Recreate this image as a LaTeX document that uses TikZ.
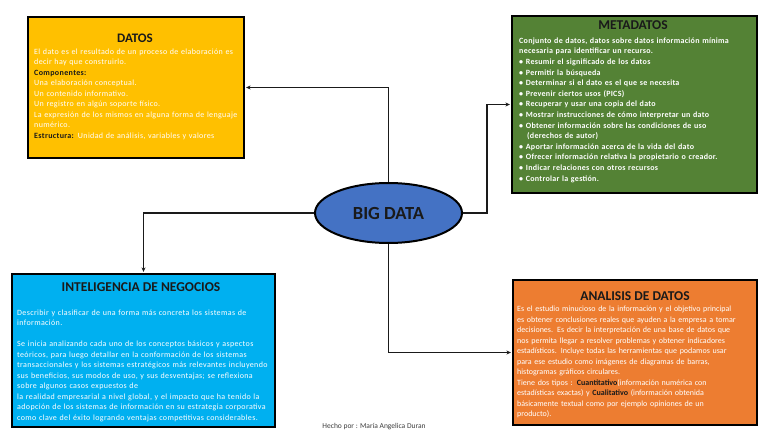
\documentclass[tikz,border=0pt]{standalone}
\usepackage{fontspec}
\setmainfont{Carlito}
\newfontfamily\bodyfont[LetterSpace=4.5]{Carlito}
\newfontfamily\metafont[LetterSpace=3.5]{Carlito}
\usetikzlibrary{arrows.meta,shapes.geometric}
\definecolor{amber}{HTML}{FFC000}
\definecolor{leaf}{HTML}{548235}
\definecolor{sky}{HTML}{00B0F0}
\definecolor{tang}{HTML}{ED7D31}
\definecolor{bigblue}{HTML}{4472C4}
\definecolor{ink}{HTML}{1A1A1A}
\newcommand{\jus}[1]{\leavevmode\hbox to\hsize{#1}}

\begin{document}
\begin{tikzpicture}[x=1pt,y=-1pt,
  panel/.style={draw=black,line width=2.2pt,inner sep=0pt},
  ttl/.style={anchor=base,inner sep=0pt,text=ink,font=\fontsize{13}{13}\selectfont\bfseries},
  txt/.style={anchor=base west,inner sep=0pt,align=left,text=white,font=\bodyfont\fontsize{8}{10.5}\selectfont},
  conn/.style={draw=ink,line width=1.1pt,-{Stealth[length=4.5pt,width=4pt]},shorten >=1pt},
  >=Stealth]
\useasboundingbox (0,0) rectangle (768,433);
% cajas
\node[panel,fill=amber,minimum width=216,minimum height=141] (datos) at (136,87.5) {};
\node[panel,fill=leaf,minimum width=245,minimum height=177] (meta) at (634.5,104.5) {};
\node[panel,fill=sky,minimum width=263,minimum height=153] (intel) at (143.5,350.5) {};
\node[panel,fill=tang,minimum width=244,minimum height=145] (anal) at (635,352.5) {};
\node[ellipse,draw=black,line width=2pt,fill=bigblue,minimum width=147,minimum height=60,
  text=ink,font=\fontsize{18.5}{18.5}\selectfont\bfseries] (big) at (388.5,213) {BIG DATA};
% titulos
\node[ttl] (datos-t) at (135,43) {DATOS};
\node[ttl,font=\fontsize{13.5}{13.5}\selectfont\bfseries] (meta-t) at (633,30) {METADATOS};
\node[ttl,font=\fontsize{13.5}{13.5}\selectfont\bfseries] (intel-t) at (141,291.5) {INTELIGENCIA DE NEGOCIOS};
\node[ttl,font=\fontsize{13.5}{13.5}\selectfont\bfseries] (anal-t) at (635,300.5) {ANALISIS DE DATOS};
% textos
\node[txt,text width=206] (datos-b) at (34,54.3) {El dato es el resultado de un proceso de elaboración es\\
decir hay que construirlo.\\
\textcolor{ink}{\bfseries Componentes:}\\
Una elaboración conceptual.\\
Un contenido informativo.\\
Un registro en algún soporte físico.\\
La expresión de los mismos en alguna forma de lenguaje\\
numérico.\\
\textcolor{ink}{\bfseries Estructura:} Unidad de análisis, variables y valores};
\node[txt,text width=234,font=\metafont\fontsize{8}{10.6}\selectfont\bfseries] (meta-b) at (519,43.3) {Conjunto de datos, datos sobre datos información mínima\\
necesaria para identificar un recurso.\\
• Resumir el significado de los datos\\
• Permitir la búsqueda\\
• Determinar si el dato es el que se necesita\\
• Prevenir ciertos usos (PICS)\\
• Recuperar y usar una copia del dato\\
• Mostrar instrucciones de cómo interpretar un dato\\
• Obtener información sobre las condiciones de uso\\
\hspace*{8pt}(derechos de autor)\\
• Aportar información acerca de la vida del dato\\
• Ofrecer información relativa la propietario o creador.\\
• Indicar relaciones con otros recursos\\
• Controlar la gestión.};
\node[txt,text width=253] (intel-b) at (17,315) {Describir y clasificar de una forma más concreta los sistemas de\\
información.\\[10.5pt]
Se inicia analizando cada uno de los conceptos básicos y aspectos\\
teóricos, para luego detallar en la conformación de los sistemas\\
transaccionales y los sistemas estratégicos más relevantes incluyendo\\
sus beneficios, sus modos de uso, y sus desventajas; se reflexiona\\
sobre algunos casos expuestos de\\
la realidad empresarial a nivel global, y el impacto que ha tenido la\\
adopción de los sistemas de información en su estrategia corporativa\\
como clave del éxito logrando ventajas competitivas considerables.};
\node[txt,text width=236,font=\rmfamily\fontsize{8}{10.5}\selectfont] (anal-b) at (517,311.7) {\jus{Es el estudio minucioso de la información y el objetivo principal}\\
\jus{es obtener conclusiones reales que ayuden a la empresa a tomar}\\
\jus{decisiones. Es decir la interpretación de una base de datos que}\\
\jus{nos permita llegar a resolver problemas y obtener indicadores}\\
\jus{estadísticos. Incluye todas las herramientas que podamos usar}\\
\jus{para ese estudio como imágenes de diagramas de barras,}\\
histogramas gráficos circulares.\\
\jus{Tiene dos tipos : \textcolor{ink}{\bfseries Cuantitativo}(información numérica con}\\
\jus{estadísticas exactas) y \textcolor{ink}{\bfseries Cualitativo} (información obtenida}\\
\jus{básicamente textual como por ejemplo opiniones de un}\\
producto).};
\node[font=\fontsize{7.5}{7.5}\selectfont,text=ink!85,inner sep=0pt] (firma) at (374,427) {Hecho por : María Angelica Duran};
% conectores
\draw[conn] (big.north) |- (datos.east);
\draw[conn] (big.east) -- ++(24,0) |- (meta.west);
\draw[conn] (big.west) -| (intel.north);
\draw[conn] (big.south) |- (anal.west);
\end{tikzpicture}
\end{document}
